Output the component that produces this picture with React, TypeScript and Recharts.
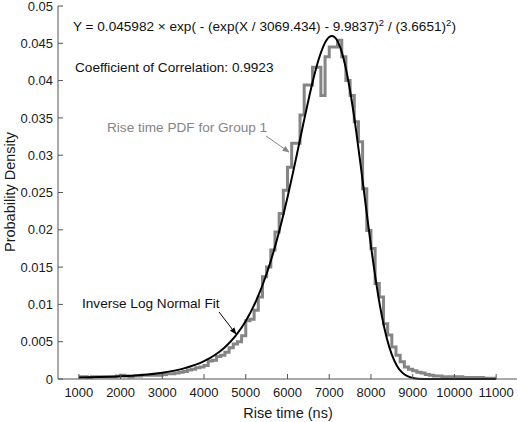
import React from 'react'
import { LineChart, Line, XAxis, YAxis } from 'recharts'

// histogram: 100 bins of 100 ns from 1000 to 11000 ns
const BIN_START = 1000
const BIN_WIDTH = 100
const pdfValues = [
  0.0003, 0.0003, 0.0002, 0.0003, 0.0003, 0.0003, 0.0003, 0.0003, 0.0003, 0.0004,
  0.0005, 0.0004, 0.0003, 0.0004, 0.0004, 0.0005, 0.0005, 0.0005, 0.0005, 0.0005,
  0.0006, 0.0007, 0.0007, 0.0008, 0.0009, 0.001, 0.0012, 0.0013, 0.0015, 0.0016,
  0.0018, 0.0024, 0.0025, 0.003, 0.0032, 0.0036, 0.0042, 0.0047, 0.005, 0.0058,
  0.0078, 0.008, 0.0092, 0.011, 0.0137, 0.015, 0.0173, 0.0197, 0.0222, 0.0253,
  0.0284, 0.0316, 0.0316, 0.0354, 0.0394, 0.0394, 0.0418, 0.0418, 0.038, 0.0432,
  0.0445, 0.0445, 0.0454, 0.0432, 0.04, 0.038, 0.0345, 0.0318, 0.0255, 0.0199,
  0.0175, 0.0128, 0.011, 0.0074, 0.0059, 0.0043, 0.0032, 0.0023, 0.0016, 0.0013,
  0.0011, 0.0009, 0.0008, 0.0006, 0.0005, 0.0004, 0.0004, 0.0003, 0.0003, 0.0003,
  0.0003, 0.0003, 0.0002, 0.0002, 0.0002, 0.0002, 0.0002, 0.0001, 0.0001, 0.0001,
]

// inverse log normal fit
const fitX = [
  1000, 1500, 2000, 2500, 3000, 3500, 4000, 4250, 4500, 4750,
  5000, 5250, 5500, 5750, 6000, 6125, 6250, 6375, 6500, 6625,
  6750, 6875, 7000, 7062, 7125, 7250, 7375, 7500, 7625, 7750,
  7875, 8000, 8125, 8250, 8375, 8500, 8625, 8750, 8875, 9000,
  9250, 9500, 10000, 10500, 11000,
]
const fitY = [
  0.000187, 0.000255, 0.000363, 0.000541, 0.000846, 0.001389, 0.002389, 0.00318, 0.004265, 0.005753,
  0.007781, 0.010511, 0.014113, 0.018724, 0.024358, 0.027498, 0.030777, 0.034099, 0.037341, 0.040336,
  0.042891, 0.044797, 0.045843, 0.045982, 0.045839, 0.044651, 0.042229, 0.038639, 0.034066, 0.028815,
  0.02327, 0.017847, 0.012928, 0.008786, 0.005564, 0.00326, 0.001752, 0.000856, 0.000376, 0.000147,
  0.000015, 0.000001, 0, 0, 0,
]

const xTicks = [1000, 2000, 3000, 4000, 5000, 6000, 7000, 8000, 9000, 10000, 11000]
const yTicks = [0, 0.005, 0.01, 0.015, 0.02, 0.025, 0.03, 0.035, 0.04, 0.045, 0.05]

const histData = [
  ...pdfValues.map((y, i) => ({ x: BIN_START + i * BIN_WIDTH, y })),
  { x: BIN_START + pdfValues.length * BIN_WIDTH, y: pdfValues[pdfValues.length - 1] },
]
const fitData = fitX.map((x, i) => ({ x, y: fitY[i] }))

const FONT = '"Liberation Sans", Arial, Helvetica, sans-serif'
const AXIS = '#555'
const GRAY = '#858585'
const NOTE = 13.6

const tickStyle = { fill: '#1a1a1a', fontSize: 13, fontFamily: FONT }

export default function App() {
  return (
    <div style={{ position: 'absolute', left: 0, top: 0, width: 520, height: 422, background: '#fff' }}>
      <LineChart width={520} height={422} margin={{ top: 6, right: 3, bottom: 0, left: 0 }}>
        <XAxis
          xAxisId="bottom"
          type="number"
          dataKey="x"
          domain={[500, 11500]}
          ticks={xTicks}
          interval={0}
          height={43}
          tick={tickStyle}
          tickSize={-5}
          tickMargin={14}
          axisLine={{ stroke: AXIS }}
          tickLine={{ stroke: AXIS }}
        />
        <XAxis
          xAxisId="top"
          orientation="top"
          type="number"
          dataKey="x"
          domain={[500, 11500]}
          ticks={xTicks}
          interval={0}
          height={0}
          tick={false}
          tickSize={-5}
          axisLine={{ stroke: AXIS }}
          tickLine={{ stroke: AXIS }}
        />
        <YAxis
          yAxisId="left"
          type="number"
          domain={[0, 0.05]}
          ticks={yTicks}
          interval={0}
          width={58}
          tick={tickStyle}
          tickSize={-5}
          tickMargin={10}
          axisLine={{ stroke: AXIS }}
          tickLine={{ stroke: AXIS }}
        />
        <YAxis
          yAxisId="right"
          orientation="right"
          type="number"
          domain={[0, 0.05]}
          ticks={yTicks}
          interval={0}
          width={0}
          tick={false}
          tickSize={-5}
          axisLine={{ stroke: AXIS }}
          tickLine={{ stroke: AXIS }}
        />
        <Line
          xAxisId="bottom"
          yAxisId="left"
          data={histData}
          dataKey="y"
          type="stepAfter"
          stroke={GRAY}
          strokeWidth={3}
          dot={false}
          isAnimationActive={false}
        />
        <Line
          xAxisId="top"
          yAxisId="right"
          data={fitData}
          dataKey="y"
          type="monotone"
          stroke="#000"
          strokeWidth={2}
          dot={false}
          isAnimationActive={false}
        />
      </LineChart>
      <svg
        width={520}
        height={422}
        style={{ position: 'absolute', left: 0, top: 0, pointerEvents: 'none' }}
        fontFamily={FONT}
      >
        <defs>
          <marker id="headGray" viewBox="0 0 10 10" refX="9" refY="5" markerWidth="7" markerHeight="7" orient="auto">
            <path d="M0,1 L10,5 L0,9 z" fill={GRAY} />
          </marker>
          <marker id="headBlack" viewBox="0 0 10 10" refX="9" refY="5" markerWidth="7" markerHeight="7" orient="auto">
            <path d="M0,1 L10,5 L0,9 z" fill="#000" />
          </marker>
        </defs>
        <text x={73} y={31} fontSize={NOTE} fill="#111">
          Y = 0.045982 × exp( - (exp(X / 3069.434) - 9.9837)
          <tspan fontSize={9.5} dy={-5}>2</tspan>
          <tspan dy={5}> / (3.6651)</tspan>
          <tspan fontSize={9.5} dy={-5}>2</tspan>
          <tspan dy={5}>)</tspan>
        </text>
        <text x={75} y={71.5} fontSize={NOTE} fill="#111">
          Coefficient of Correlation: 0.9923
        </text>
        <text x={107} y={131.5} fontSize={NOTE} fill={GRAY}>
          Rise time PDF for Group 1
        </text>
        <line x1={266} y1={136} x2={289} y2={152} stroke={GRAY} strokeWidth={1} markerEnd="url(#headGray)" />
        <text x={82} y={308} fontSize={NOTE} fill="#111">
          Inverse Log Normal Fit
        </text>
        <line x1={219} y1={312} x2={236} y2={334} stroke="#000" strokeWidth={1} markerEnd="url(#headBlack)" />
        <text x={288} y={418} fontSize={14.5} fill="#1a1a1a" textAnchor="middle">
          Rise time (ns)
        </text>
        <text
          x={15}
          y={192}
          fontSize={14.5}
          fill="#1a1a1a"
          textAnchor="middle"
          transform="rotate(-90 15 192)"
        >
          Probability Density
        </text>
      </svg>
    </div>
  )
}
